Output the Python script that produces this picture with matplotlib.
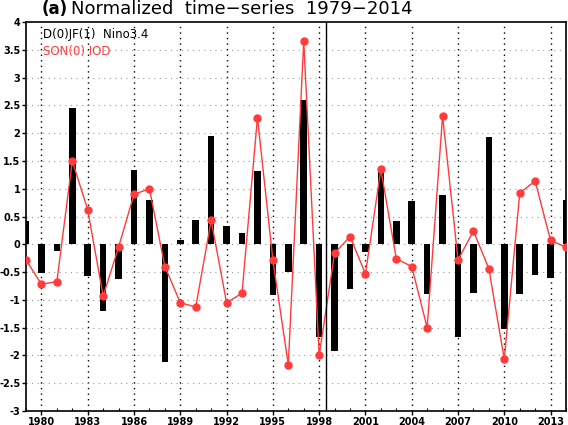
import numpy as np
import matplotlib
matplotlib.use("Agg")
import matplotlib.pyplot as plt
from matplotlib.ticker import MultipleLocator, FuncFormatter

years = np.arange(1979, 2015)

# D(0)JF(1) Nino3.4 (bars)
nino34 = [0.42, -0.51, -0.12, 2.46, -0.57, -1.20, -0.63, 1.33, 0.80, -2.12,
          0.07, 0.43, 1.95, 0.33, 0.21, 1.32, -0.92, -0.50, 2.59, -1.67,
          -1.92, -0.80, -0.13, 1.32, 0.42, 0.78, -0.90, 0.89, -1.67, -0.88,
          1.94, -1.53, -0.90, -0.56, -0.61, 0.80]

# SON(0) IOD (red line)
iod = [-0.28, -0.72, -0.67, 1.50, 0.62, -0.93, -0.05, 0.90, 1.00, -0.40,
       -1.05, -1.13, 0.43, -1.05, -0.88, 2.28, -0.28, -2.17, 3.66, -2.00,
       -0.16, 0.14, -0.53, 1.35, -0.26, -0.40, -1.50, 2.31, -0.28, 0.24,
       -0.44, -2.07, 0.92, 1.14, 0.07, -0.05]

xtick_years = list(range(1980, 2014, 3))
red = "#ff3b3b"

fig = plt.figure(figsize=(5.68, 4.25), dpi=100)
ax = fig.add_axes([0.0458, 0.033, 0.9507, 0.915])

ax.bar(years, nino34, width=0.43, color="black", zorder=2)
ax.plot(years, iod, color=red, lw=1.0, marker="o", ms=5, mec=red, mfc=red, zorder=3)
ax.axvline(1998.45, color="black", lw=1.0, zorder=4)

ax.set_xlim(1979, 2014)
ax.set_ylim(-3, 4)
ax.set_xticks(xtick_years)
ax.yaxis.set_major_locator(MultipleLocator(0.5))
ax.yaxis.set_major_formatter(FuncFormatter(lambda v, p: "%g" % v))
ax.xaxis.set_minor_locator(MultipleLocator(1))

# grid: dotted black verticals, dotted grey horizontals
for y in xtick_years:
    ax.axvline(y, color="black", ls=(0, (1, 3)), lw=1.0, zorder=1)
for v in np.arange(-2.5, 4.0, 0.5):
    ax.axhline(v, color="#999999", ls=(0, (1, 4)), lw=0.8, zorder=1)

ax.tick_params(axis="both", which="major", labelsize=7, length=3, width=1,
               direction="out", pad=1)
ax.tick_params(axis="x", which="minor", length=2, width=0.8, direction="in")
for lab in ax.get_xticklabels() + ax.get_yticklabels():
    lab.set_fontweight("bold")
for s in ax.spines.values():
    s.set_linewidth(1.2)

ax.text(0.032, 0.985, "D(0)JF(1)  Nino3.4", transform=ax.transAxes, fontsize=8.5,
        color="black", va="top", ha="left")
ax.text(0.032, 0.94, "SON(0) IOD", transform=ax.transAxes, fontsize=8.5,
        color=red, va="top", ha="left")

fig.text(0.073, 0.957, "(a)", fontsize=12, fontweight="bold", ha="left", va="bottom")
fig.text(0.125, 0.957, "Normalized  time\u2212series  1979\u22122014", fontsize=13,
         ha="left", va="bottom")

fig.savefig("out.png", dpi=100)
